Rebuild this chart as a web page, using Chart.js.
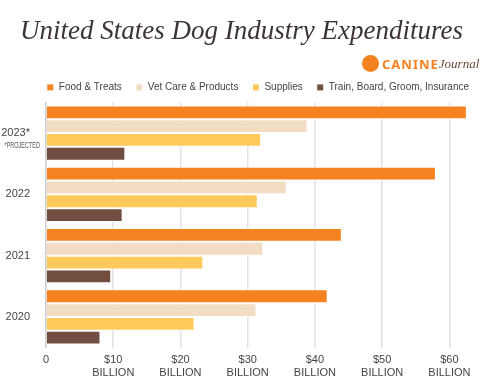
<!DOCTYPE html>
<html>
<head>
<meta charset="utf-8">
<script src="https://cdn.jsdelivr.net/npm/chart.js@4"></script>
<style>
  html, body { margin: 0; padding: 0; background: #fff; }
  #wrap { position: relative; width: 500px; height: 389px; }
  #logo { position: absolute; left: 362px; top: 51px; height: 20px; font-family: "Noto Sans", sans-serif; white-space: nowrap; }
  #logo .dot { display: inline-block; width: 17px; height: 17px; border-radius: 50%; background: #f58220; vertical-align: middle; margin-right: 3px; }
  #logo .c { color: #f58220; font-weight: bold; font-size: 13px; letter-spacing: 1px; vertical-align: middle; }
  #logo .j { color: #6b4a3c; font-family: "Liberation Serif", serif; font-style: italic; font-size: 13px; vertical-align: middle; }
</style>
</head>
<body>
<div id="wrap">
  <canvas id="myChart" width="500" height="389"></canvas>
  <div id="logo"><span class="dot"></span><span class="c">CANINE</span><span class="j">Journal</span></div>
</div>
<script>
'use strict';
// data (billions of dollars)
let years = ['2023*', '2022', '2021', '2020'];
let seriesNames = ['Food & Treats', 'Vet Care & Products', 'Supplies', 'Train, Board, Groom, Insurance'];
let food = [62.6, 58.0, 44.0, 41.9];
let vetCare = [38.9, 35.8, 32.3, 31.3];
let supplies = [32.0, 31.5, 23.4, 22.1];
let training = [11.8, 11.4, 9.7, 8.1];
let tickValues = [0, 10, 20, 30, 40, 50, 60];
let colors = ['#f58220', '#f2dcc3', '#fdca5b', '#714e40'];

let fontName = '"Liberation Sans", sans-serif';

// small "*PROJECTED" note under the 2023 label (squeezed sideways, the original font is narrow)
let projectedNote = {
  id: 'projectedNote',
  afterDraw(chart) {
    let yScale = chart.scales.y;
    let ctx = chart.ctx;
    let y = yScale.getPixelForValue(0);
    ctx.save();
    ctx.translate(yScale.right - 6, y + 12);
    ctx.scale(0.58, 1);
    ctx.font = '9.5px ' + fontName;
    ctx.fillStyle = '#555';
    ctx.textAlign = 'right';
    ctx.textBaseline = 'middle';
    ctx.fillText('*PROJECTED', 0, 0);
    ctx.restore();
  }
};

let ctx = document.getElementById('myChart').getContext('2d');
let myChart = new Chart(ctx, {
  type: 'bar',
  data: {
    labels: years,
    datasets: [food, vetCare, supplies, training].map(function (d, i) {
      return {
        label: seriesNames[i],
        data: d,
        backgroundColor: colors[i],
        borderColor: '#fff',
        borderWidth: 1,
        borderSkipped: 'left',
        barPercentage: 1,
        categoryPercentage: 0.9
      };
    })
  },
  options: {
    indexAxis: 'y',
    responsive: false,
    animation: false,
    layout: { padding: { left: 0, right: 17, top: 6, bottom: 3 } },
    plugins: {
      title: {
        display: true,
        text: 'United States Dog Industry Expenditures',
        color: '#3d3535',
        font: { family: '"Liberation Serif", serif', style: 'italic', size: 27, weight: 'normal' },
        padding: { top: 10, bottom: 20 }
      },
      legend: {
        position: 'top',
        align: 'end',
        labels: {
          boxWidth: 7,
          boxHeight: 7,
          padding: 14,
          color: '#444',
          font: { family: fontName, size: 10 }
        }
      },
      tooltip: { enabled: false }
    },
    scales: {
      x: {
        min: 0,
        max: 65,
        afterBuildTicks: function (scale) {
          scale.ticks = tickValues.map(function (v) { return { value: v }; });
        },
        grid: { color: '#e2e2e2', lineWidth: 1.5, drawTicks: false },
        border: { display: false },
        ticks: {
          padding: 6,
          color: '#444',
          font: { family: fontName, size: 11 },
          callback: function (v) {
            if (v === 0) return '0';
            return ['$' + v, 'BILLION'];
          }
        }
      },
      y: {
        afterFit: function (scale) { scale.width = 46; },
        grid: { display: false },
        border: { display: true, color: '#d0d0d0', width: 1.5 },
        ticks: {
          padding: 8,
          color: '#444',
          font: { family: fontName, size: 11 }
        }
      }
    }
  },
  plugins: [projectedNote]
});
</script>
</body>
</html>
